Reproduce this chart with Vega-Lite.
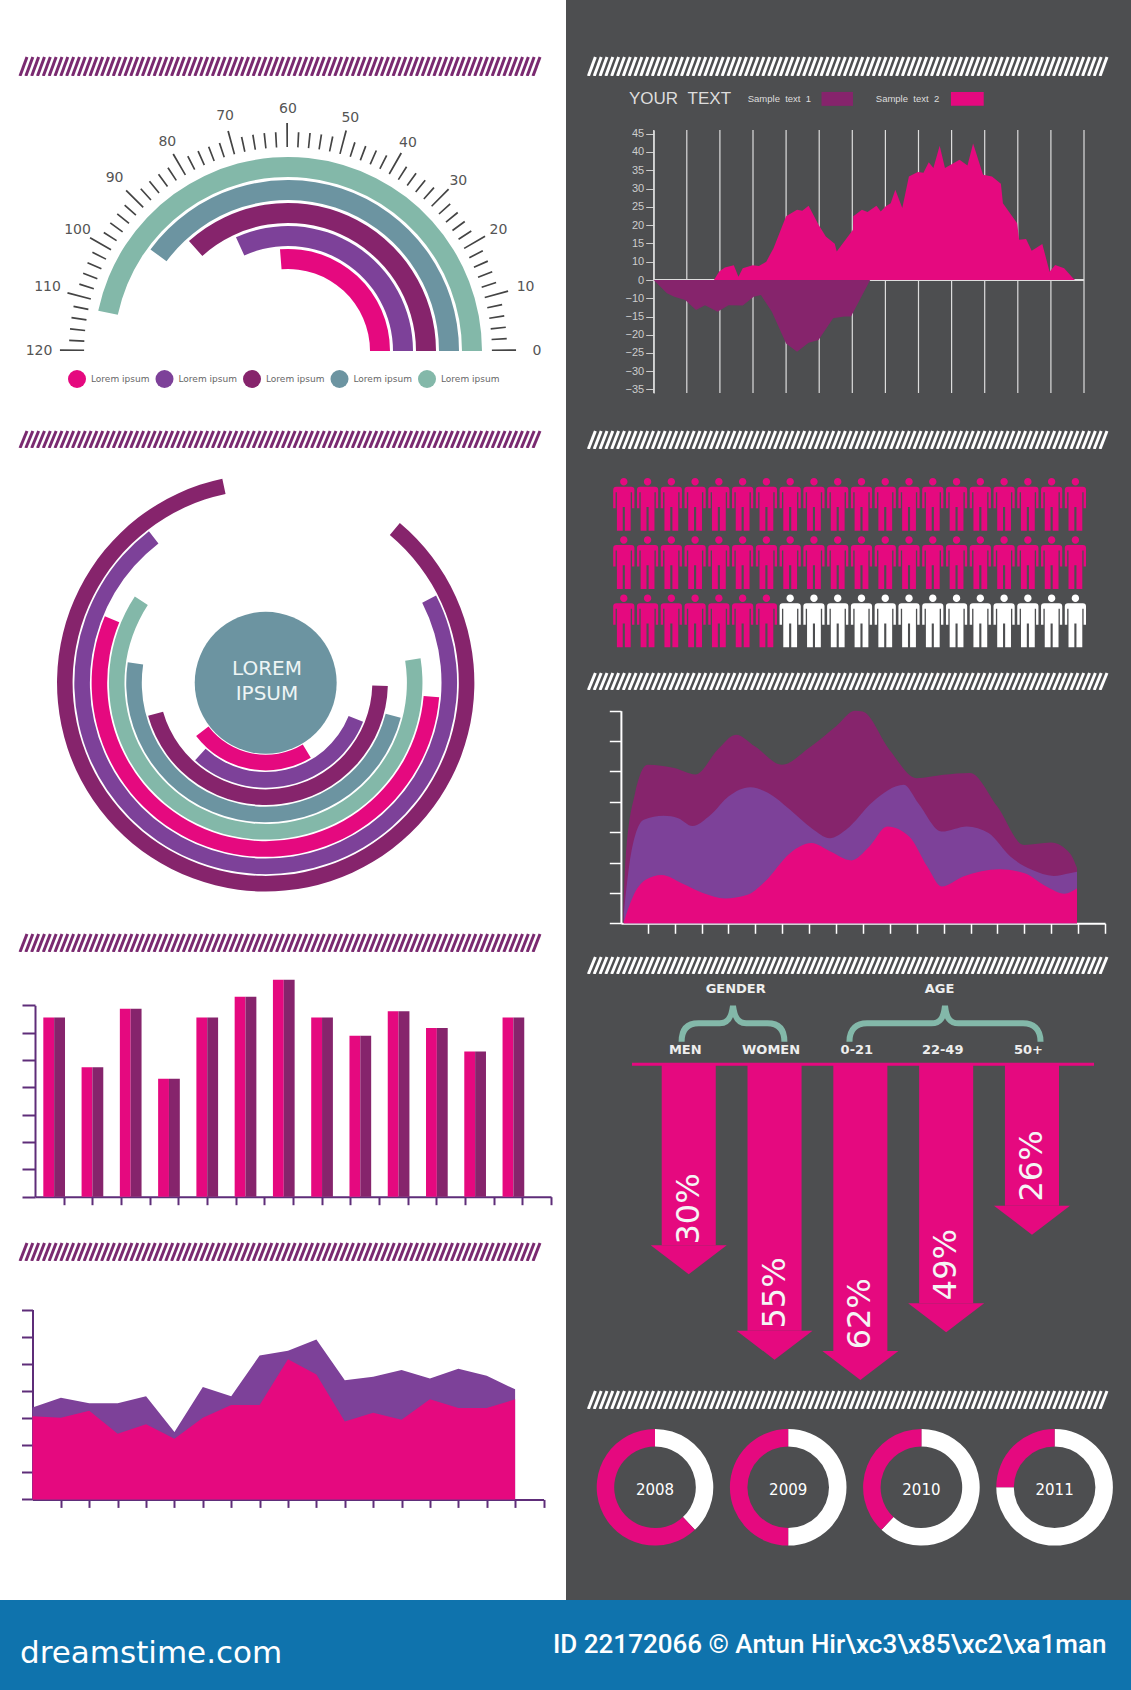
{"$schema":"https://vega.github.io/schema/vega-lite/v6.json","padding":0,"background":"#ffffff","spacing":0,"resolve":{"scale":{"theta":"independent","radius":"independent","color":"independent"}},"config":{"view":{"stroke":null},"axis":{"grid":false,"labels":false,"titleOpacity":0,"titleFontSize":0,"titlePadding":0,"tickCount":100}},
"datasets":{"stripes":[{"a":0,"b":1.2},{"a":1,"b":2.2},{"a":2,"b":3.2},{"a":3,"b":4.2},{"a":4,"b":5.2},{"a":5,"b":6.2},{"a":6,"b":7.2},{"a":7,"b":8.2},{"a":8,"b":9.2},{"a":9,"b":10.2},{"a":10,"b":11.2},{"a":11,"b":12.2},{"a":12,"b":13.2},{"a":13,"b":14.2},{"a":14,"b":15.2},{"a":15,"b":16.2},{"a":16,"b":17.2},{"a":17,"b":18.2},{"a":18,"b":19.2},{"a":19,"b":20.2},{"a":20,"b":21.2},{"a":21,"b":22.2},{"a":22,"b":23.2},{"a":23,"b":24.2},{"a":24,"b":25.2},{"a":25,"b":26.2},{"a":26,"b":27.2},{"a":27,"b":28.2},{"a":28,"b":29.2},{"a":29,"b":30.2},{"a":30,"b":31.2},{"a":31,"b":32.2},{"a":32,"b":33.2},{"a":33,"b":34.2},{"a":34,"b":35.2},{"a":35,"b":36.2},{"a":36,"b":37.2},{"a":37,"b":38.2},{"a":38,"b":39.2},{"a":39,"b":40.2},{"a":40,"b":41.2},{"a":41,"b":42.2},{"a":42,"b":43.2},{"a":43,"b":44.2},{"a":44,"b":45.2},{"a":45,"b":46.2},{"a":46,"b":47.2},{"a":47,"b":48.2},{"a":48,"b":49.2},{"a":49,"b":50.2},{"a":50,"b":51.2},{"a":51,"b":52.2},{"a":52,"b":53.2},{"a":53,"b":54.2},{"a":54,"b":55.2},{"a":55,"b":56.2},{"a":56,"b":57.2},{"a":57,"b":58.2},{"a":58,"b":59.2},{"a":59,"b":60.2},{"a":60,"b":61.2},{"a":61,"b":62.2},{"a":62,"b":63.2},{"a":63,"b":64.2},{"a":64,"b":65.2},{"a":65,"b":66.2},{"a":66,"b":67.2},{"a":67,"b":68.2},{"a":68,"b":69.2},{"a":69,"b":70.2},{"a":70,"b":71.2},{"a":71,"b":72.2},{"a":72,"b":73.2},{"a":73,"b":74.2},{"a":74,"b":75.2},{"a":75,"b":76.2},{"a":76,"b":77.2},{"a":77,"b":78.2},{"a":78,"b":79.2},{"a":79,"b":80.2},{"a":80,"b":81.2},{"a":81,"b":82.2},{"a":82,"b":83.2},{"a":83,"b":84.2},{"a":84,"b":85.2},{"a":85,"b":86.2},{"a":86,"b":87.2},{"a":87,"b":88.2},{"a":88,"b":89.2}]},
"vconcat":[{"spacing":0,"resolve":{"scale":{"theta":"independent","radius":"independent","color":"independent"}},"hconcat":[
{"resolve":{"scale":{"theta":"independent","radius":"independent","color":"independent"}},"vconcat":[
{"width":566,"height":76,"view":{"fill":"#ffffff","stroke":null},"data":{"name":"stripes"},"mark":{"type":"rule","strokeWidth":3,"color":"#7a2a70"},"encoding":{"x":{"field":"a","type":"quantitative","axis":null,"scale":{"domain":[0,89.2],"range":[20,540]}},"x2":{"field":"b"},"y":{"datum":0,"axis":null,"scale":{"domain":[0,1],"range":[76,57]}},"y2":{"datum":1}}},
{"width":566,"height":355,"view":{"fill":"#ffffff","stroke":null},"layer":[
{"data":{"values":[{"v":0,"v2":0.3,"u":5.3,"u2":6.35},{"v":2,"v2":2.3,"u":5.3,"u2":5.96},{"v":4,"v2":4.3,"u":5.3,"u2":5.96},{"v":6,"v2":6.3,"u":5.3,"u2":5.96},{"v":8,"v2":8.3,"u":5.3,"u2":5.96},{"v":10,"v2":10.3,"u":5.3,"u2":6.35},{"v":12,"v2":12.3,"u":5.3,"u2":5.96},{"v":14,"v2":14.3,"u":5.3,"u2":5.96},{"v":16,"v2":16.3,"u":5.3,"u2":5.96},{"v":18,"v2":18.3,"u":5.3,"u2":5.96},{"v":20,"v2":20.3,"u":5.3,"u2":6.35},{"v":22,"v2":22.3,"u":5.3,"u2":5.96},{"v":24,"v2":24.3,"u":5.3,"u2":5.96},{"v":26,"v2":26.3,"u":5.3,"u2":5.96},{"v":28,"v2":28.3,"u":5.3,"u2":5.96},{"v":30,"v2":30.3,"u":5.3,"u2":6.35},{"v":32,"v2":32.3,"u":5.3,"u2":5.96},{"v":34,"v2":34.3,"u":5.3,"u2":5.96},{"v":36,"v2":36.3,"u":5.3,"u2":5.96},{"v":38,"v2":38.3,"u":5.3,"u2":5.96},{"v":40,"v2":40.3,"u":5.3,"u2":6.35},{"v":42,"v2":42.3,"u":5.3,"u2":5.96},{"v":44,"v2":44.3,"u":5.3,"u2":5.96},{"v":46,"v2":46.3,"u":5.3,"u2":5.96},{"v":48,"v2":48.3,"u":5.3,"u2":5.96},{"v":50,"v2":50.3,"u":5.3,"u2":6.35},{"v":52,"v2":52.3,"u":5.3,"u2":5.96},{"v":54,"v2":54.3,"u":5.3,"u2":5.96},{"v":56,"v2":56.3,"u":5.3,"u2":5.96},{"v":58,"v2":58.3,"u":5.3,"u2":5.96},{"v":60,"v2":60.3,"u":5.3,"u2":6.35},{"v":62,"v2":62.3,"u":5.3,"u2":5.96},{"v":64,"v2":64.3,"u":5.3,"u2":5.96},{"v":66,"v2":66.3,"u":5.3,"u2":5.96},{"v":68,"v2":68.3,"u":5.3,"u2":5.96},{"v":70,"v2":70.3,"u":5.3,"u2":6.35},{"v":72,"v2":72.3,"u":5.3,"u2":5.96},{"v":74,"v2":74.3,"u":5.3,"u2":5.96},{"v":76,"v2":76.3,"u":5.3,"u2":5.96},{"v":78,"v2":78.3,"u":5.3,"u2":5.96},{"v":80,"v2":80.3,"u":5.3,"u2":6.35},{"v":82,"v2":82.3,"u":5.3,"u2":5.96},{"v":84,"v2":84.3,"u":5.3,"u2":5.96},{"v":86,"v2":86.3,"u":5.3,"u2":5.96},{"v":88,"v2":88.3,"u":5.3,"u2":5.96},{"v":90,"v2":90.3,"u":5.3,"u2":6.35},{"v":92,"v2":92.3,"u":5.3,"u2":5.96},{"v":94,"v2":94.3,"u":5.3,"u2":5.96},{"v":96,"v2":96.3,"u":5.3,"u2":5.96},{"v":98,"v2":98.3,"u":5.3,"u2":5.96},{"v":100,"v2":100.3,"u":5.3,"u2":6.35},{"v":102,"v2":102.3,"u":5.3,"u2":5.96},{"v":104,"v2":104.3,"u":5.3,"u2":5.96},{"v":106,"v2":106.3,"u":5.3,"u2":5.96},{"v":108,"v2":108.3,"u":5.3,"u2":5.96},{"v":110,"v2":110.3,"u":5.3,"u2":6.35},{"v":112,"v2":112.3,"u":5.3,"u2":5.96},{"v":114,"v2":114.3,"u":5.3,"u2":5.96},{"v":116,"v2":116.3,"u":5.3,"u2":5.96},{"v":118,"v2":118.3,"u":5.3,"u2":5.96},{"v":119.7,"v2":120,"u":5.3,"u2":6.35}]},
"mark":{"type":"arc","color":"#444444"},"encoding":{"x":{"value":288},"y":{"value":275},"theta":{"field":"v","type":"quantitative","stack":null,"scale":{"domain":[0,120],"range":[1.5708,-1.5708]}},"theta2":{"field":"v2"},"radius":{"field":"u","type":"quantitative","scale":{"type":"linear","domain":[0,10],"range":[82,312]}},"radius2":{"field":"u2"}}},
{"data":{"values":[{"v":0,"u":7.26},{"v":10,"u":7.13},{"v":20,"u":7.0},{"v":30,"u":6.91},{"v":40,"u":6.87},{"v":50,"u":6.91},{"v":60,"u":6.95},{"v":70,"u":7.0},{"v":80,"u":6.93},{"v":90,"u":7.1},{"v":100,"u":7.0},{"v":110,"u":7.26},{"v":120,"u":7.26}]},
"mark":{"type":"text","font":"DejaVu Sans","fontSize":14,"color":"#555555","baseline":"middle","align":"center"},"encoding":{"x":{"value":288},"y":{"value":275},"theta":{"field":"v","type":"quantitative","stack":null},"radius":{"field":"u","type":"quantitative"},"text":{"field":"v","type":"quantitative","format":"d"}}},
{"data":{"values":[{"series":"a","ring":0,"ring2":0.87,"v":0,"v2":63},{"series":"b","ring":1,"ring2":1.87,"v":0,"v2":76.4},{"series":"c","ring":2,"ring2":2.87,"v":0,"v2":88},{"series":"d","ring":3,"ring2":3.87,"v":0,"v2":95.7},{"series":"e","ring":4,"ring2":4.87,"v":0,"v2":112}]},
"mark":{"type":"arc"},"encoding":{"x":{"value":288},"y":{"value":275},"theta":{"field":"v","type":"quantitative","stack":null},"theta2":{"field":"v2"},"radius":{"field":"ring","type":"quantitative"},"radius2":{"field":"ring2"},"color":{"field":"series","type":"nominal","scale":{"domain":["a","b","c","d","e"],"range":["#e5097f","#7d4199","#86246c","#6c94a1","#83b8a9"]},"legend":{"title":null,"orient":"none","legendX":68,"legendY":294,"direction":"horizontal","columns":5,"symbolType":"circle","symbolSize":324,"symbolStrokeWidth":0,"labelFontSize":9,"labelFont":"DejaVu Sans","labelColor":"#666666","labelOffset":5,"columnPadding":5.5,"labelExpr":"'Lorem ipsum'"}}}}
]},
{"width":566,"height":17,"view":{"fill":"#ffffff","stroke":null},"data":{"name":"stripes"},"mark":{"type":"rule","strokeWidth":3,"color":"#7a2a70"},"encoding":{"x":{"field":"a","type":"quantitative","axis":null,"scale":{"domain":[0,89.2],"range":[20,540]}},"x2":{"field":"b"},"y":{"datum":0,"axis":null,"scale":{"domain":[0,1],"range":[17,0]}},"y2":{"datum":1}}},
{"width":566,"height":486,"view":{"fill":"#ffffff","stroke":null},"layer":[
{"data":{"values":[{"ring":-4.162,"ring2":-0.06,"start":0,"end":360,"s":"blue"},{"ring":0,"ring2":0.9,"start":149,"end":232.6,"s":"pink"},{"ring":1,"ring2":1.9,"start":111.8,"end":222.3,"s":"purple"},{"ring":2,"ring2":2.9,"start":91.5,"end":254.3,"s":"dark"},{"ring":3,"ring2":3.9,"start":104.5,"end":278.5,"s":"blue"},{"ring":4,"ring2":4.9,"start":81,"end":303.4,"s":"light"},{"ring":5,"ring2":5.9,"start":94.8,"end":292.5,"s":"pink"},{"ring":6,"ring2":6.9,"start":62.9,"end":322.4,"s":"purple"},{"ring":7,"ring2":7.9,"start":40,"end":348,"s":"dark"}]},
"mark":{"type":"arc"},"encoding":{"x":{"value":265.7},"y":{"value":234.8},"theta":{"field":"start","type":"quantitative","stack":null,"scale":{"domain":[0,360],"range":[0,6.2832]}},"theta2":{"field":"end"},"radius":{"field":"ring","type":"quantitative","scale":{"type":"linear","domain":[-4.162,8],"range":[0,210.4]}},"radius2":{"field":"ring2"},"color":{"field":"s","type":"nominal","legend":null,"scale":{"domain":["pink","purple","dark","blue","light"],"range":["#e5097f","#7d4199","#86246c","#6c94a1","#83b8a9"]}}}},
{"data":{"values":[{"t":"LOREM"}]},"mark":{"type":"text","font":"DejaVu Sans","fontSize":20,"color":"#eef5f5","align":"center","baseline":"middle"},"encoding":{"x":{"value":267},"y":{"value":221},"text":{"field":"t"}}},
{"data":{"values":[{"t":"IPSUM"}]},"mark":{"type":"text","font":"DejaVu Sans","fontSize":20,"color":"#eef5f5","align":"center","baseline":"middle"},"encoding":{"x":{"value":267},"y":{"value":246},"text":{"field":"t"}}}
]},
{"width":566,"height":18,"view":{"fill":"#ffffff","stroke":null},"data":{"name":"stripes"},"mark":{"type":"rule","strokeWidth":3,"color":"#7a2a70"},"encoding":{"x":{"field":"a","type":"quantitative","axis":null,"scale":{"domain":[0,89.2],"range":[20,540]}},"x2":{"field":"b"},"y":{"datum":0,"axis":null,"scale":{"domain":[0,1],"range":[18,0]}},"y2":{"datum":1}}},
{"width":566,"height":291,"view":{"fill":"#ffffff","stroke":null},"data":{"values":[{"start":0.29,"mid":0.668,"end":1.047,"value":6.55},{"start":1.625,"mid":2.003,"end":2.382,"value":4.73},{"start":2.96,"mid":3.338,"end":3.717,"value":6.87},{"start":4.295,"mid":4.673,"end":5.052,"value":4.31},{"start":5.63,"mid":6.008,"end":6.387,"value":6.55},{"start":6.965,"mid":7.343,"end":7.722,"value":7.31},{"start":8.3,"mid":8.678,"end":9.057,"value":7.93},{"start":9.635,"mid":10.013,"end":10.392,"value":6.55},{"start":10.97,"mid":11.348,"end":11.727,"value":5.89},{"start":12.305,"mid":12.683,"end":13.062,"value":6.78},{"start":13.64,"mid":14.018,"end":14.397,"value":6.17},{"start":14.975,"mid":15.353,"end":15.732,"value":5.31},{"start":16.31,"mid":16.688,"end":17.067,"value":6.55}]},"layer":[
{"mark":{"type":"bar","color":"#e5097f"},"encoding":{"x":{"field":"start","type":"quantitative","scale":{"domain":[0,18],"range":[35,551],"nice":false},"axis":{"values":[1,2,3,4,5,6,7,8,9,10,11,12,13,14,15,16,17,18],"tickCount":100,"offset":-46.3,"domainColor":"#5e2d79","tickColor":"#5e2d79","domainWidth":2,"tickWidth":2,"tickSize":8,"title":null}},"x2":{"field":"mid"},"y":{"field":"value","type":"quantitative","stack":null,"scale":{"domain":[0,7],"range":[244.7,53.3],"nice":false},"axis":{"values":[0,1,2,3,4,5,6,7],"tickCount":100,"offset":-35,"domainColor":"#5e2d79","tickColor":"#5e2d79","domainWidth":2,"tickWidth":2,"tickSize":13,"title":null}},"y2":{"datum":0}}},
{"mark":{"type":"bar","color":"#86246c"},"encoding":{"x":{"field":"mid","type":"quantitative"},"x2":{"field":"end"},"y":{"field":"value","type":"quantitative","stack":null},"y2":{"datum":0}}}
]},
{"width":566,"height":18,"view":{"fill":"#ffffff","stroke":null},"data":{"name":"stripes"},"mark":{"type":"rule","strokeWidth":3,"color":"#7a2a70"},"encoding":{"x":{"field":"a","type":"quantitative","axis":null,"scale":{"domain":[0,89.2],"range":[20,540]}},"x2":{"field":"b"},"y":{"datum":0,"axis":null,"scale":{"domain":[0,1],"range":[18,0]}},"y2":{"datum":1}}},
{"width":566,"height":339,"view":{"fill":"#ffffff","stroke":null},"data":{"values":[{"k":0,"p":3.39,"q":3.07},{"k":1,"p":3.75,"q":3.01},{"k":2,"p":3.55,"q":3.27},{"k":3,"p":3.55,"q":2.42},{"k":4,"p":3.8,"q":2.77},{"k":5,"p":2.49,"q":2.24},{"k":6,"p":4.15,"q":3.01},{"k":7,"p":3.8,"q":3.48},{"k":8,"p":5.31,"q":3.48},{"k":9,"p":5.48,"q":5.17},{"k":10,"p":5.9,"q":4.61},{"k":11,"p":4.39,"q":2.87},{"k":12,"p":4.52,"q":3.2},{"k":13,"p":4.77,"q":2.94},{"k":14,"p":4.46,"q":3.69},{"k":15,"p":4.82,"q":3.37},{"k":16,"p":4.56,"q":3.37},{"k":17,"p":4.06,"q":3.69}]},"layer":[
{"mark":{"type":"area","color":"#7d4199"},"encoding":{"x":{"field":"k","type":"quantitative","scale":{"domain":[0,18],"range":[32.5,543.5],"nice":false},"axis":{"values":[1,2,3,4,5,6,7,8,9,10,11,12,13,14,15,16,17,18],"tickCount":100,"offset":-100.6,"domainColor":"#5e2d79","tickColor":"#5e2d79","domainWidth":2,"tickWidth":2,"tickSize":8,"title":null}},"y":{"field":"p","type":"quantitative","stack":null,"scale":{"domain":[0,7],"range":[238.4,48.6],"nice":false},"axis":{"values":[0,1,2,3,4,5,6,7],"tickCount":100,"offset":-32.5,"domainColor":"#5e2d79","tickColor":"#5e2d79","domainWidth":2,"tickWidth":2,"tickSize":11,"title":null}}}},
{"mark":{"type":"area","color":"#e5097f"},"encoding":{"x":{"field":"k","type":"quantitative"},"y":{"field":"q","type":"quantitative","stack":null}}}
]}
],"spacing":0,"bounds":"flush"},
{"resolve":{"scale":{"theta":"independent","radius":"independent","color":"independent"}},"vconcat":[
{"width":565,"height":76,"view":{"fill":"#4d4e50","stroke":null},"data":{"name":"stripes"},"mark":{"type":"rule","strokeWidth":3,"color":"#ffffff"},"encoding":{"x":{"field":"a","type":"quantitative","axis":null,"scale":{"domain":[0,89.2],"range":[22.4,541]}},"x2":{"field":"b"},"y":{"datum":0,"axis":null,"scale":{"domain":[0,1],"range":[76,57]}},"y2":{"datum":1}}},
{"width":565,"height":355,"view":{"fill":"#4d4e50","stroke":null},"layer":[
{"data":{"values":[{"k":0,"lo":-36,"hi":46},{"k":1,"lo":-36,"hi":46},{"k":2,"lo":-36,"hi":46},{"k":3,"lo":-36,"hi":46},{"k":4,"lo":-36,"hi":46},{"k":5,"lo":-36,"hi":46},{"k":6,"lo":-36,"hi":46},{"k":7,"lo":-36,"hi":46},{"k":8,"lo":-36,"hi":46},{"k":9,"lo":-36,"hi":46},{"k":10,"lo":-36,"hi":46},{"k":11,"lo":-36,"hi":46},{"k":12,"lo":-36,"hi":46},{"k":13,"lo":-36,"hi":46}]},"mark":{"type":"rule","color":"#dddddd","strokeWidth":1.2},"encoding":{"x":{"field":"k","type":"quantitative","axis":null,"scale":{"domain":[0,13],"range":[87.7,518],"nice":false}},"y":{"field":"lo","type":"quantitative","scale":{"domain":[-36,-10,0,10,46],"range":[317,222.3,204,185.7,54],"nice":false},"axis":{"values":[-35,-30,-25,-20,-15,-10,0,10,15,20,25,30,35,40,45],"tickCount":100,"labelOverlap":false,"offset":-87.7,"labels":true,"labelFont":"Liberation Sans","labelFontSize":11,"labelColor":"#cccccc","labelPadding":2,"tickColor":"#cccccc","tickSize":8,"tickWidth":1,"domainColor":"#dddddd","domainWidth":1.2,"title":null}},"y2":{"field":"hi"}}},
{"data":{"values":[{"x":0,"x2":13,"z":0}]},"mark":{"type":"rule","color":"#dddddd","strokeWidth":2},"encoding":{"x":{"field":"x","type":"quantitative","axis":null},"x2":{"field":"x2"},"y":{"field":"z","type":"quantitative"}}},
{"data":{"values":[{"k":0,"v":0},{"k":1.82,"v":0},{"k":1.98,"v":4.6},{"k":2.15,"v":6.8},{"k":2.42,"v":8},{"k":2.56,"v":1.8},{"k":2.69,"v":6.4},{"k":2.99,"v":8},{"k":3.18,"v":7.7},{"k":3.4,"v":10},{"k":3.62,"v":13.7},{"k":4,"v":22.4},{"k":4.33,"v":24.2},{"k":4.49,"v":23.9},{"k":4.68,"v":25.3},{"k":4.98,"v":20.1},{"k":5.2,"v":16.9},{"k":5.47,"v":14.9},{"k":5.53,"v":12.8},{"k":6.02,"v":18.7},{"k":6.03,"v":22.4},{"k":6.29,"v":24.2},{"k":6.46,"v":23.6},{"k":6.73,"v":25.3},{"k":6.86,"v":23.7},{"k":7,"v":25.1},{"k":7.16,"v":26},{"k":7.3,"v":29.7},{"k":7.51,"v":24.65},{"k":7.71,"v":33.3},{"k":7.98,"v":34.5},{"k":8.15,"v":34.3},{"k":8.31,"v":37.2},{"k":8.45,"v":35.6},{"k":8.64,"v":41.7},{"k":8.8,"v":35.6},{"k":9.24,"v":37.9},{"k":9.48,"v":36.3},{"k":9.65,"v":42.3},{"k":9.95,"v":33.8},{"k":10.22,"v":33.3},{"k":10.49,"v":31.3},{"k":10.55,"v":26},{"k":10.98,"v":20.5},{"k":11.04,"v":15.97},{"k":11.25,"v":16.2},{"k":11.42,"v":13},{"k":11.74,"v":14.87},{"k":11.96,"v":4.56},{"k":12.13,"v":8.2},{"k":12.4,"v":6.4},{"k":12.67,"v":0.92},{"k":12.73,"v":0}]},"mark":{"type":"area","color":"#e5097f"},"encoding":{"x":{"field":"k","type":"quantitative","axis":null},"y":{"field":"v","type":"quantitative","stack":null},"y2":{"datum":0}}},
{"data":{"values":[{"k":0,"v":0},{"k":0.4,"v":-7.3},{"k":0.62,"v":-9.1},{"k":0.95,"v":-10.5},{"k":1.28,"v":-13.2},{"k":1.55,"v":-11.9},{"k":1.93,"v":-13.7},{"k":2.26,"v":-11.9},{"k":2.69,"v":-12},{"k":3.02,"v":-9.1},{"k":3.24,"v":-8.2},{"k":3.57,"v":-13.7},{"k":4,"v":-22.4},{"k":4.33,"v":-24.65},{"k":4.68,"v":-22.2},{"k":4.98,"v":-21.45},{"k":5.42,"v":-15.5},{"k":5.75,"v":-15},{"k":5.96,"v":-15},{"k":6.54,"v":0}]},"mark":{"type":"area","color":"#86246c"},"encoding":{"x":{"field":"k","type":"quantitative","axis":null},"y":{"field":"v","type":"quantitative","stack":null},"y2":{"datum":0}}},
{"data":{"values":[{"a":5.07,"b":6.02,"c":"s1","s1":56.4,"s2":52.6},{"a":8.98,"b":9.97,"c":"s2","s1":56.4,"s2":52.6}]},"mark":{"type":"rect"},"encoding":{"x":{"field":"a","type":"quantitative","axis":null},"x2":{"field":"b"},"y":{"field":"s1","type":"quantitative"},"y2":{"field":"s2"},"color":{"field":"c","type":"nominal","legend":null,"scale":{"domain":["s1","s2"],"range":["#86246c","#e5097f"]}}}},
{"data":{"values":[{"t":"YOUR\u00a0\u00a0TEXT","a":-0.746,"s":54.4}]},"mark":{"type":"text","font":"Liberation Sans","fontSize":17,"color":"#dddddd","align":"left","baseline":"middle"},"encoding":{"x":{"field":"a","type":"quantitative","axis":null},"y":{"field":"s","type":"quantitative"},"text":{"field":"t"}}},
{"data":{"values":[{"t":"Sample\u00a0\u00a0text\u00a0\u00a01","a":2.84,"s":54.4},{"t":"Sample\u00a0\u00a0text\u00a0\u00a02","a":6.71,"s":54.4}]},"mark":{"type":"text","font":"Liberation Sans","fontSize":9.5,"color":"#dddddd","align":"left","baseline":"middle"},"encoding":{"x":{"field":"a","type":"quantitative","axis":null},"y":{"field":"s","type":"quantitative"},"text":{"field":"t"}}}
]},
{"width":565,"height":18,"view":{"fill":"#4d4e50","stroke":null},"data":{"name":"stripes"},"mark":{"type":"rule","strokeWidth":3,"color":"#ffffff"},"encoding":{"x":{"field":"a","type":"quantitative","axis":null,"scale":{"domain":[0,89.2],"range":[22.4,541]}},"x2":{"field":"b"},"y":{"datum":0,"axis":null,"scale":{"domain":[0,1],"range":[18,0]}},"y2":{"datum":1}}},
{"width":565,"height":224,"view":{"fill":"#4d4e50","stroke":null},"data":{"values":[{"c":1,"r":1,"s":"a"},{"c":2,"r":1,"s":"a"},{"c":3,"r":1,"s":"a"},{"c":4,"r":1,"s":"a"},{"c":5,"r":1,"s":"a"},{"c":6,"r":1,"s":"a"},{"c":7,"r":1,"s":"a"},{"c":8,"r":1,"s":"a"},{"c":9,"r":1,"s":"a"},{"c":10,"r":1,"s":"a"},{"c":11,"r":1,"s":"a"},{"c":12,"r":1,"s":"a"},{"c":13,"r":1,"s":"a"},{"c":14,"r":1,"s":"a"},{"c":15,"r":1,"s":"a"},{"c":16,"r":1,"s":"a"},{"c":17,"r":1,"s":"a"},{"c":18,"r":1,"s":"a"},{"c":19,"r":1,"s":"a"},{"c":20,"r":1,"s":"a"},{"c":1,"r":2,"s":"a"},{"c":2,"r":2,"s":"a"},{"c":3,"r":2,"s":"a"},{"c":4,"r":2,"s":"a"},{"c":5,"r":2,"s":"a"},{"c":6,"r":2,"s":"a"},{"c":7,"r":2,"s":"a"},{"c":8,"r":2,"s":"a"},{"c":9,"r":2,"s":"a"},{"c":10,"r":2,"s":"a"},{"c":11,"r":2,"s":"a"},{"c":12,"r":2,"s":"a"},{"c":13,"r":2,"s":"a"},{"c":14,"r":2,"s":"a"},{"c":15,"r":2,"s":"a"},{"c":16,"r":2,"s":"a"},{"c":17,"r":2,"s":"a"},{"c":18,"r":2,"s":"a"},{"c":19,"r":2,"s":"a"},{"c":20,"r":2,"s":"a"},{"c":1,"r":3,"s":"a"},{"c":2,"r":3,"s":"a"},{"c":3,"r":3,"s":"a"},{"c":4,"r":3,"s":"a"},{"c":5,"r":3,"s":"a"},{"c":6,"r":3,"s":"a"},{"c":7,"r":3,"s":"a"},{"c":8,"r":3,"s":"b"},{"c":9,"r":3,"s":"b"},{"c":10,"r":3,"s":"b"},{"c":11,"r":3,"s":"b"},{"c":12,"r":3,"s":"b"},{"c":13,"r":3,"s":"b"},{"c":14,"r":3,"s":"b"},{"c":15,"r":3,"s":"b"},{"c":16,"r":3,"s":"b"},{"c":17,"r":3,"s":"b"},{"c":18,"r":3,"s":"b"},{"c":19,"r":3,"s":"b"},{"c":20,"r":3,"s":"b"}]},
"mark":{"type":"point","filled":true,"opacity":1,"size":2809,"strokeWidth":0,"shape":"M-0.4,-0.55 Q-0.4,-0.66 -0.28,-0.66 L0.28,-0.66 Q0.4,-0.66 0.4,-0.55 L0.4,0.15 L0.31,0.15 L0.31,-0.45 L0.26,-0.45 L0.26,1 L0.04,1 L0.04,0.1 L-0.04,0.1 L-0.04,1 L-0.26,1 L-0.26,-0.45 L-0.31,-0.45 L-0.31,0.15 L-0.4,0.15 Z M-0.14,-0.85 A0.14,0.14 0 1 1 0.14,-0.85 A0.14,0.14 0 1 1 -0.14,-0.85 Z"},"encoding":{"x":{"field":"c","type":"quantitative","axis":null,"scale":{"domain":[1,20],"range":[57.8,509.4]}},"y":{"field":"r","type":"quantitative","axis":null,"scale":{"domain":[1,3],"range":[55.3,171.8]}},"color":{"field":"s","type":"nominal","legend":null,"scale":{"domain":["a","b"],"range":["#e5097f","#ffffff"]}}}},
{"width":565,"height":17,"view":{"fill":"#4d4e50","stroke":null},"data":{"name":"stripes"},"mark":{"type":"rule","strokeWidth":3,"color":"#ffffff"},"encoding":{"x":{"field":"a","type":"quantitative","axis":null,"scale":{"domain":[0,89.2],"range":[22.4,541]}},"x2":{"field":"b"},"y":{"datum":0,"axis":null,"scale":{"domain":[0,1],"range":[17,0]}},"y2":{"datum":1}}},
{"width":565,"height":267,"view":{"fill":"#4d4e50","stroke":null},"layer":[
{"data":{"values":[{"k":0.09,"v":0.5},{"k":0.18,"v":2.2},{"k":0.52,"v":4.26},{"k":0.99,"v":5.22},{"k":1.99,"v":5.11},{"k":2.77,"v":4.9},{"k":3.61,"v":5.73},{"k":4.28,"v":6.21},{"k":4.99,"v":5.82},{"k":5.99,"v":5.22},{"k":6.99,"v":5.77},{"k":7.99,"v":6.48},{"k":8.7,"v":7},{"k":8.99,"v":6.97},{"k":9.99,"v":5.71},{"k":10.99,"v":4.78},{"k":11.99,"v":4.89},{"k":12.98,"v":4.95},{"k":13.99,"v":3.85},{"k":14.99,"v":2.58},{"k":15.99,"v":2.66},{"k":16.7,"v":2.3},{"k":16.96,"v":1.82}]},"mark":{"type":"area","color":"#86246c","interpolate":"monotone"},"encoding":{"x":{"field":"k","type":"quantitative","scale":{"domain":[0,18],"range":[54.9,539],"nice":false},"axis":{"values":[1,2,3,4,5,6,7,8,9,10,11,12,13,14,15,16,17,18],"tickCount":100,"offset":-33.7,"domainColor":"#ffffff","tickColor":"#ffffff","domainWidth":2,"tickWidth":1.5,"tickSize":10,"title":null}},"y":{"field":"v","type":"quantitative","stack":null,"scale":{"domain":[0,7],"range":[233.3,20.7],"nice":false},"axis":{"values":[0,1,2,3,4,5,6,7],"tickCount":100,"offset":-54.9,"domainColor":"#ffffff","tickColor":"#ffffff","domainWidth":2,"tickWidth":1.5,"tickSize":11.6,"title":null}}}},
{"data":{"values":[{"k":0.11,"v":0.33},{"k":0.38,"v":2.31},{"k":0.85,"v":3.41},{"k":1.59,"v":3.54},{"k":2.13,"v":3.46},{"k":2.66,"v":3.2},{"k":3.34,"v":3.57},{"k":4.01,"v":4.18},{"k":4.81,"v":4.48},{"k":5.48,"v":4.29},{"k":6.29,"v":3.74},{"k":7.09,"v":3.13},{"k":7.77,"v":2.8},{"k":8.37,"v":3.08},{"k":9.38,"v":4.01},{"k":10.52,"v":4.56},{"k":11.05,"v":3.96},{"k":11.93,"v":3.02},{"k":12.87,"v":3.19},{"k":13.67,"v":2.97},{"k":14.48,"v":2.2},{"k":15.28,"v":1.76},{"k":16.09,"v":1.56},{"k":16.69,"v":1.65},{"k":16.96,"v":1.7}]},"mark":{"type":"area","color":"#7d4199","interpolate":"monotone"},"encoding":{"x":{"field":"k","type":"quantitative"},"y":{"field":"v","type":"quantitative","stack":null}}},
{"data":{"values":[{"k":0.11,"v":0.05},{"k":0.45,"v":0.88},{"k":0.92,"v":1.43},{"k":1.52,"v":1.59},{"k":2.26,"v":1.32},{"k":3.07,"v":0.99},{"k":3.87,"v":0.82},{"k":4.68,"v":0.93},{"k":5.35,"v":1.37},{"k":6.29,"v":2.31},{"k":7.09,"v":2.64},{"k":7.77,"v":2.37},{"k":8.57,"v":2.07},{"k":9.24,"v":2.53},{"k":9.91,"v":3.19},{"k":10.72,"v":2.86},{"k":11.39,"v":1.87},{"k":11.93,"v":1.21},{"k":12.73,"v":1.54},{"k":14.08,"v":1.78},{"k":15.01,"v":1.65},{"k":15.82,"v":1.21},{"k":16.49,"v":0.97},{"k":16.96,"v":1.15}]},"mark":{"type":"area","color":"#e5097f","interpolate":"monotone"},"encoding":{"x":{"field":"k","type":"quantitative"},"y":{"field":"v","type":"quantitative","stack":null}}}
]},
{"width":565,"height":17,"view":{"fill":"#4d4e50","stroke":null},"data":{"name":"stripes"},"mark":{"type":"rule","strokeWidth":3,"color":"#ffffff"},"encoding":{"x":{"field":"a","type":"quantitative","axis":null,"scale":{"domain":[0,89.2],"range":[22.4,541]}},"x2":{"field":"b"},"y":{"datum":0,"axis":null,"scale":{"domain":[0,1],"range":[17,0]}},"y2":{"datum":1}}},
{"width":565,"height":417,"view":{"fill":"#4d4e50","stroke":null},"layer":[
{"data":{"values":[{"g":"MEN","label":"30%","zero":0,"shaft":181,"head":195.5,"txt":144.7},{"g":"WOMEN","label":"55%","zero":0,"shaft":266.4,"head":280.9,"txt":228.7},{"g":"0-21","label":"62%","zero":0,"shaft":286.7,"head":301.2,"txt":249.5},{"g":"22-49","label":"49%","zero":0,"shaft":239,"head":253.5,"txt":200.3},{"g":"50+","label":"26%","zero":0,"shaft":141.4,"head":155.9,"txt":101.7}]},"layer":[
{"mark":{"type":"bar","color":"#e5097f"},"encoding":{"x":{"field":"g","type":"nominal","sort":null,"scale":{"type":"band","domain":["MEN","WOMEN","0-21","22-49","50+"],"range":[95.7,493],"paddingInner":0.37,"paddingOuter":0},"axis":{"orient":"top","offset":-90.3,"domain":false,"ticks":false,"labels":true,"labelAngle":0,"labelFont":"DejaVu Sans","labelFontWeight":"bold","labelFontSize":13,"labelColor":"#eeeeee","labelPadding":8,"labelOffset":-3.5,"title":null}},"y":{"field":"zero","type":"quantitative","stack":null,"scale":{"domain":[-90,327],"range":[0.3,417.3],"nice":false},"axis":null},"y2":{"field":"shaft"}}},
{"mark":{"type":"point","filled":true,"opacity":1,"color":"#e5097f","size":5776,"strokeWidth":0,"shape":"M-1,-0.38 L1,-0.38 L0,0.38 Z"},"encoding":{"x":{"field":"g","type":"nominal","bandPosition":0.5},"y":{"field":"head","type":"quantitative","axis":null}}},
{"mark":{"type":"text","font":"DejaVu Sans","fontSize":32,"angle":270,"color":"#f5f5f5","align":"center","baseline":"middle"},"encoding":{"x":{"field":"g","type":"nominal","bandPosition":0.5},"y":{"field":"txt","type":"quantitative","axis":null},"text":{"field":"label"}}}
]},
{"data":{"values":[{"y":0}]},"mark":{"type":"rule","color":"#e5097f","strokeWidth":3},"encoding":{"x":{"value":66},"x2":{"value":528},"y":{"field":"y","type":"quantitative","axis":null}}},
{"data":{"values":[{"t":"GENDER","y":-75.3}]},"mark":{"type":"text","font":"DejaVu Sans","fontWeight":"bold","fontSize":13,"color":"#eeeeee","align":"center","baseline":"middle"},"encoding":{"x":{"value":169.7},"y":{"field":"y","type":"quantitative","axis":null},"text":{"field":"t"}}},
{"data":{"values":[{"t":"AGE","y":-75.3}]},"mark":{"type":"text","font":"DejaVu Sans","fontWeight":"bold","fontSize":13,"color":"#eeeeee","align":"center","baseline":"middle"},"encoding":{"x":{"value":373.6},"y":{"field":"y","type":"quantitative","axis":null},"text":{"field":"t"}}},
{"data":{"values":[{"y":-41}]},"mark":{"type":"point","filled":false,"opacity":1,"color":"#83b8a9","strokeWidth":6,"size":11236,"shape":"M-0.97,0.35 C-0.97,0.1 -0.85,0 -0.65,0 L-0.25,0 C-0.1,0 -0.03,-0.1 0,-0.33 C0.03,-0.1 0.1,0 0.25,0 L0.65,0 C0.85,0 0.97,0.1 0.97,0.35"},"encoding":{"x":{"value":167},"y":{"field":"y","type":"quantitative","axis":null}}},
{"data":{"values":[{"y":-41}]},"mark":{"type":"point","filled":false,"opacity":1,"color":"#83b8a9","strokeWidth":6,"size":38025,"shape":"M-0.98,0.19 C-0.98,0.05 -0.9,0 -0.8,0 L-0.14,0 C-0.05,0 -0.015,-0.05 0,-0.18 C0.015,-0.05 0.05,0 0.14,0 L0.8,0 C0.9,0 0.98,0.05 0.98,0.19"},"encoding":{"x":{"value":379},"y":{"field":"y","type":"quantitative","axis":null}}}
]},
{"width":565,"height":18,"view":{"fill":"#4d4e50","stroke":null},"data":{"name":"stripes"},"mark":{"type":"rule","strokeWidth":3,"color":"#ffffff"},"encoding":{"x":{"field":"a","type":"quantitative","axis":null,"scale":{"domain":[0,89.2],"range":[22.4,541]}},"x2":{"field":"b"},"y":{"datum":0,"axis":null,"scale":{"domain":[0,1],"range":[18,0]}},"y2":{"datum":1}}},
{"width":565,"height":191,"view":{"fill":"#4d4e50","stroke":null},"layer":[
{"data":{"values":[{"year":"2008","part":"white","start":0,"end":38},{"year":"2008","part":"pink","start":38,"end":100},{"year":"2009","part":"white","start":0,"end":50},{"year":"2009","part":"pink","start":50,"end":100},{"year":"2010","part":"white","start":0,"end":62},{"year":"2010","part":"pink","start":62,"end":100},{"year":"2011","part":"white","start":0,"end":75},{"year":"2011","part":"pink","start":75,"end":100}]},"mark":{"type":"arc","innerRadius":40.8,"outerRadius":58.3},"encoding":{"x":{"field":"year","type":"ordinal","axis":null,"scale":{"type":"point","domain":["2008","2009","2010","2011"],"range":[89,488.6],"padding":0}},"y":{"value":78.3},"theta":{"field":"start","type":"quantitative","stack":null,"scale":{"domain":[0,100],"range":[0,6.2832]}},"theta2":{"field":"end"},"color":{"field":"part","type":"nominal","legend":null,"scale":{"domain":["white","pink"],"range":["#ffffff","#e5097f"]}}}},
{"data":{"values":[{"year":"2008"},{"year":"2009"},{"year":"2010"},{"year":"2011"}]},"mark":{"type":"text","font":"DejaVu Sans","fontSize":15,"color":"#ffffff","align":"center","baseline":"middle"},"encoding":{"x":{"field":"year","type":"ordinal","axis":null},"y":{"value":81},"text":{"field":"year"}}}
]}
],"spacing":0,"bounds":"flush"}
]},
{"width":1131,"height":90,"view":{"fill":"#0f73ad","stroke":null},"layer":[
{"data":{"values":[{"t":"dreamstime.com"}]},"mark":{"type":"text","font":"DejaVu Sans","fontSize":31,"color":"#ffffff","align":"left","baseline":"alphabetic"},"encoding":{"x":{"value":20},"y":{"value":63},"text":{"field":"t"}}},
{"data":{"values":[{"t":"ID 22172066 © Antun Hir\\xc3\\x85\\xc2\\xa1man"}]},"mark":{"type":"text","font":"Roboto","fontWeight":500,"fontSize":26,"color":"#ffffff","align":"left","baseline":"alphabetic"},"encoding":{"x":{"value":553},"y":{"value":53},"text":{"field":"t"}}}
]}
]}
